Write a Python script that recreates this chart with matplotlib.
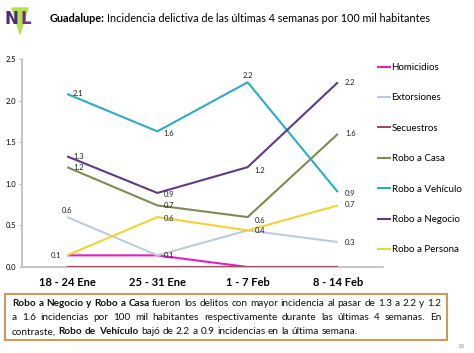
import matplotlib
matplotlib.use("Agg")
import matplotlib.pyplot as plt
from matplotlib.patches import Rectangle, Polygon
from matplotlib.font_manager import FontProperties

weeks = ["18 - 24 Ene", "25 - 31 Ene", "1 - 7 Feb", "8 - 14 Feb"]
homicidios = [0.14, 0.14, 0.0, 0.0]
extorsiones = [0.6, 0.14, 0.44, 0.3]
secuestros = [0.0, 0.0, 0.0, 0.0]
robo_casa = [1.2, 0.74, 0.6, 1.6]
robo_vehiculo = [2.08, 1.63, 2.22, 0.9]
robo_negocio = [1.33, 0.89, 1.2, 2.22]
robo_persona = [0.14, 0.6, 0.44, 0.74]
yticks = [0.0, 0.5, 1.0, 1.5, 2.0, 2.5]

series = [
    ("Homicidios", homicidios, "#E61EBE"),
    ("Extorsiones", extorsiones, "#BDCBE0"),
    ("Secuestros", secuestros, "#A34A5E"),
    ("Robo a Casa", robo_casa, "#7D8C4E"),
    ("Robo a Vehículo", robo_vehiculo, "#2AADC6"),
    ("Robo a Negocio", robo_negocio, "#5E3A86"),
    ("Robo a Persona", robo_persona, "#F2D332"),
]

# (series index, point index, dx px, dy px, ha)
annotations = [
    (4, 0, 6, 0, "left"), (5, 0, 6, 0, "left"), (3, 0, 6, 0, "left"),
    (1, 0, 0, 7, "center"), (6, 0, -6, 0, "right"),
    (4, 1, 6, -2, "left"), (5, 1, 6, -2, "left"), (3, 1, 6, 0, "left"),
    (6, 1, 6, -1, "left"), (1, 1, 6, 0, "left"),
    (4, 2, 0, 7, "center"), (5, 2, 7, -3, "left"), (3, 2, 7, -3, "left"),
    (6, 2, 7, 0, "left"),
    (5, 3, 7, 0, "left"), (3, 3, 7, 0, "left"), (4, 3, 7, -1, "left"),
    (6, 3, 7, 1, "left"), (1, 3, 7, 0, "left"),
]

FONT = "Lato"
W, H = 474, 353
fig = plt.figure(figsize=(W / 100, H / 100), dpi=100)
ax = fig.add_axes([22 / W, 1 - 267 / H, (383 - 22) / W, (267 - 59) / H])

xs = [i + 0.5 for i in range(len(weeks))]
for name, vals, col in series:
    ax.plot(xs, vals, color=col, lw=1.5, label=name, solid_capstyle="butt", zorder=3)

for si, pi, dx, dy, ha in annotations:
    v = series[si][1][pi]
    ax.annotate(f"{v:.1f}", (xs[pi], v), xytext=(dx * 0.72, dy * 0.72),
                textcoords="offset points", ha=ha, va="center",
                fontsize=5.5, family=FONT, color="#222222", zorder=5)

ax.set_xlim(0, 4)
ax.set_ylim(0, 2.5)
ax.set_xticks(xs)
ax.set_xticklabels(weeks, fontsize=8, fontweight="bold", family=FONT)
ax.set_yticks(yticks)
ax.set_yticklabels([f"{t:.1f}" for t in yticks], fontsize=5.5, family=FONT)
ax.tick_params(axis="x", length=0, pad=7)
ax.tick_params(axis="y", length=2, width=0.8, color="#bbbbbb", pad=2)
for s in ["top", "right"]:
    ax.spines[s].set_visible(False)
for s in ["left", "bottom"]:
    ax.spines[s].set_color("#bbbbbb")
    ax.spines[s].set_linewidth(1.2)

ax.legend(loc="upper left", bbox_to_anchor=(377 / W, 1 - 63 / H),
          bbox_transform=fig.transFigure, frameon=False,
          handlelength=1.4, handletextpad=0.1, labelspacing=2.2,
          borderpad=0, borderaxespad=0,
          prop={"family": FONT, "size": 7})

fig.canvas.draw()
r = fig.canvas.get_renderer()


def text_width(s, size, bold=False):
    w, _, _ = r.get_text_width_height_descent(
        s, FontProperties(family=FONT, size=size, weight="bold" if bold else "normal"),
        ismath=False)
    return w


# Title, scaled to span x=50..428
title_bold = "Guadalupe:"
title_rest = "Incidencia delictiva de las últimas 4 semanas por 100 mil habitantes"
gap = 2.5
wtot = text_width(title_bold, 10, True) + text_width(title_rest, 10) + gap
tfs = 10 * (428 - 50 - gap) / (wtot - gap)
fig.text(50 / W, 1 - 19 / H, title_bold, fontsize=tfs, fontweight="bold",
         family=FONT, va="center", ha="left")
xr = 50 + text_width(title_bold, tfs, True) + gap
fig.text(xr / W, 1 - 19 / H, title_rest, fontsize=tfs, family=FONT, va="center", ha="left")

# Logo
fig.patches.append(Polygon([[12 / W, 1 - 8 / H], [28 / W, 1 - 8 / H], [20 / W, 1 - 34 / H]],
                           closed=True, transform=fig.transFigure, color="#B5E24A", zorder=1))
fig.text(4 / W, 1 - 19 / H, "N", fontsize=12, fontweight="bold", color="#4B2A7C",
         family="DejaVu Sans", va="center", ha="left", zorder=2)
fig.text(20 / W, 1 - 19 / H, "L", fontsize=12, fontweight="bold", color="#7B2A8C",
         family="DejaVu Sans", va="center", ha="left", zorder=2)

# Text box
fig.patches.append(Rectangle((5 / W, 1 - 340 / H), (447 - 5) / W, (340 - 294) / H,
                             transform=fig.transFigure, fill=False, edgecolor="#C99A5B", lw=1.5))

lines = [
    ([("Robo a Negocio y Robo a Casa", True),
      ("fueron los delitos con mayor incidencia al pasar de 1.3 a 2.2 y 1.2", False)], True, 304),
    ([("a 1.6 incidencias por 100 mil habitantes respectivamente durante las últimas 4 semanas. En", False)], True, 318),
    ([("contraste,", False), ("Robo de Vehículo", True),
      ("bajó de 2.2 a 0.9 incidencias en la última semana.", False)], False, 332),
]
x0, x1 = 12, 441
fs = 7.2
for segs, justify, ypix in lines:
    words = []
    for txt, bold in segs:
        for w in txt.split(" "):
            words.append((w, bold))
    widths = [text_width(w, fs, b) for w, b in words]
    space = 0.27 * fs * 100 / 72
    if justify:
        space = (x1 - x0 - sum(widths)) / (len(words) - 1)
    x = x0
    for (w, bold), wd in zip(words, widths):
        fig.text(x / W, 1 - ypix / H, w, fontsize=fs, family=FONT,
                 fontweight="bold" if bold else "normal", va="center", ha="left", color="#111111")
        x += wd + space

fig.text(461 / W, 1 - 347 / H, "18", fontsize=4.5, color="#999999", family=FONT,
         va="center", ha="center")

fig.savefig("out.png", dpi=100)
